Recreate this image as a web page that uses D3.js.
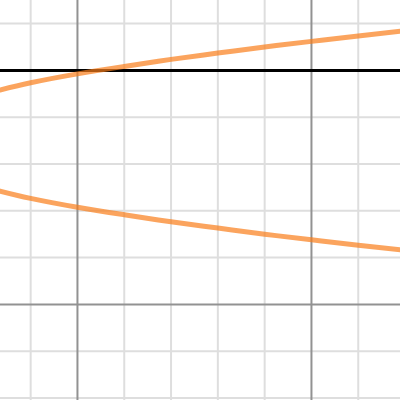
<!DOCTYPE html>
<html>
<head>
<meta charset="utf-8">
<script src="https://cdn.jsdelivr.net/npm/d3@7"></script>
<style>
  html, body { margin: 0; padding: 0; background: #fff; }
  svg { display: block; }
</style>
</head>
<body>
<div id="graph"></div>
<script>
// grid values (minor every 1, major every 5)
const xTicks = [4, 5, 6, 7, 8, 9, 10, 11];
const yTicks = [1, 0, -1, -2, -3, -4, -5, -6, -7];
const majorTicks = [0, 5, 10, -5];

// orange curve
const upperX = [3.345, 4, 5, 6, 7, 8, 9, 10, 11, 11.9];
const upperY = [-0.42, -0.265, -0.075, 0.085, 0.235, 0.37, 0.50, 0.62, 0.735, 0.835];
const lowerX = [3.345, 4, 5, 6, 7, 8, 9, 10, 11, 11.9];
const lowerY = [-2.58, -2.735, -2.925, -3.085, -3.235, -3.37, -3.50, -3.62, -3.735, -3.835];

const width = 400;
const height = 400;

const x = d3.scaleLinear().domain([3.345, 11.892]).range([0, width]);
const y = d3.scaleLinear().domain([1.504, -7.043]).range([0, height]);

const svg = d3.select("#graph")
  .append("svg")
  .attr("width", width)
  .attr("height", height);

// minor grid
svg.append("g")
  .selectAll("line")
  .data(xTicks.filter(d => !majorTicks.includes(d)))
  .join("line")
  .attr("x1", d => x(d)).attr("x2", d => x(d))
  .attr("y1", 0).attr("y2", height)
  .attr("stroke", "#dedede")
  .attr("stroke-width", 2);

svg.append("g")
  .selectAll("line")
  .data(yTicks.filter(d => !majorTicks.includes(d)))
  .join("line")
  .attr("y1", d => y(d)).attr("y2", d => y(d))
  .attr("x1", 0).attr("x2", width)
  .attr("stroke", "#dedede")
  .attr("stroke-width", 2);

// major grid
svg.append("g")
  .selectAll("line")
  .data(xTicks.filter(d => majorTicks.includes(d) && d !== 0))
  .join("line")
  .attr("x1", d => x(d)).attr("x2", d => x(d))
  .attr("y1", 0).attr("y2", height)
  .attr("stroke", "#929292")
  .attr("stroke-width", 2);

svg.append("g")
  .selectAll("line")
  .data(yTicks.filter(d => majorTicks.includes(d) && d !== 0))
  .join("line")
  .attr("y1", d => y(d)).attr("y2", d => y(d))
  .attr("x1", 0).attr("x2", width)
  .attr("stroke", "#929292")
  .attr("stroke-width", 2);

// x axis
svg.append("line")
  .attr("x1", 0).attr("x2", width)
  .attr("y1", y(0)).attr("y2", y(0))
  .attr("stroke", "#000")
  .attr("stroke-width", 3);

const line = d3.line()
  .x(d => x(d[0]))
  .y(d => y(d[1]))
  .curve(d3.curveNatural);

[[upperX, upperY], [lowerX, lowerY]].forEach(([xs, ys]) => {
  svg.append("path")
    .datum(xs.map((v, i) => [v, ys[i]]))
    .attr("d", line)
    .attr("fill", "none")
    .attr("stroke", "#fa7e19")
    .attr("stroke-opacity", 0.7)
    .attr("stroke-width", 5)
    .attr("stroke-linecap", "round");
});
</script>
</body>
</html>
